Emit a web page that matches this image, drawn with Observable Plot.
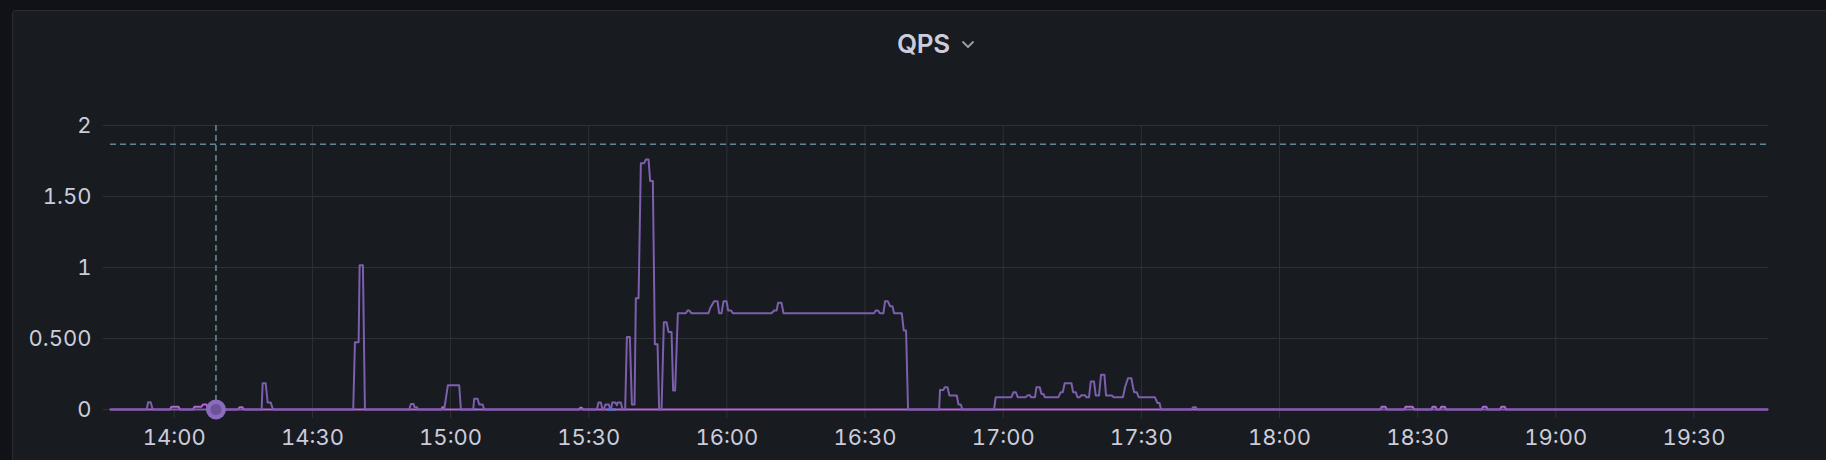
<!DOCTYPE html>
<html>
<head>
<meta charset="utf-8">
<script src="https://cdn.jsdelivr.net/npm/d3@7"></script>
<script src="https://cdn.jsdelivr.net/npm/@observablehq/plot@0.6"></script>
<style>
  html, body { margin: 0; padding: 0; width: 1826px; height: 460px; overflow: hidden; background: #111217; font-family: Inter, "Noto Sans", sans-serif; }
  #panel { position: absolute; left: 12px; top: 10px; width: 1840px; height: 480px; background: #181b1f; border: 1px solid #2a2c31; border-radius: 4px; box-sizing: border-box; }
  #title { position: absolute; left: 897px; top: 27px; height: 32px; display: flex; align-items: center; color: #ccccdc; font-size: 26px; font-weight: 600; letter-spacing: -0.3px; white-space: nowrap; }
  #title svg { margin-left: 11px; margin-top: 4px; }
  #chart { position: absolute; left: 0; top: 90px; }
</style>
</head>
<body>
<div id="panel"></div>
<div id="title"><span>QPS</span><svg width="14" height="10" viewBox="0 0 14 10"><polyline points="2,2 7,7 12,2" fill="none" stroke="#9d9fa8" stroke-width="1.8" stroke-linecap="round" stroke-linejoin="round"/></svg></div>
<div id="chart"></div>
<script>
// ---- data (times are minutes relative to 14:00) ----
const xTickLabels = ["14:00","14:30","15:00","15:30","16:00","16:30","17:00","17:30","18:00","18:30","19:00","19:30"];
const yTickValues = [0, 0.5, 1, 1.5, 2];
const yTickLabels = ["0", "0.500", "1", "1.50", "2"];
const domainMinutes = [-13.85, 345.97];
const threshold = 1.868;
const cursorMinute = 9.05;
const cursorValue = 0;

const purpleMinutes = [
  -13.85, -5.99, -5.67, -5.12, -4.69,
  18.97, 19.19, 19.84, 20.28, 20.93, 21.43,
  38.86, 39.23, 40.03, 40.25, 40.96, 41.40,
  51.02, 51.39, 51.97, 52.19, 52.69, 52.97,
  58.61, 59.42, 61.87, 62.24,
  64.91, 65.13, 65.86, 66.21, 66.95, 67.30,
  91.76, 92.13, 92.63, 93.00,
  93.28, 93.61, 94.37, 94.69,
  94.80, 95.13, 95.78, 96.11, 96.32, 96.97, 97.34,
  97.91, 98.28, 98.93, 99.37, 99.95, 100.23, 100.82, 101.32, 102.03, 102.40, 102.99, 103.33, 103.92,
  104.36, 104.94, 105.29, 105.81, 106.31, 106.90, 107.33, 107.98, 108.33, 108.76, 109.35,
  111.09, 111.46, 111.80, 112.32, 116.01, 116.36, 117.23, 117.97, 118.31, 118.84, 119.27, 119.92, 120.27, 120.92, 121.29,
  129.69, 130.25, 130.78, 131.12, 131.86, 132.30,
  151.96, 152.33, 152.83, 153.20, 154.00, 154.35, 154.94, 155.44, 155.96, 156.30, 157.98, 158.41, 158.91, 159.34,
  166.08, 166.29, 167.03, 167.31, 167.90, 168.33, 169.92, 170.29, 170.79, 171.15,
  178.01, 178.38, 181.79, 182.23, 182.73, 183.16, 184.90, 185.33, 185.77, 186.05, 186.92, 187.22, 187.94,
  188.31, 188.74, 189.02, 191.99, 192.50, 192.93, 193.36, 194.82, 195.17, 195.75, 196.12, 196.62, 196.99,
  197.77, 198.07, 198.64, 199.01, 199.72, 200.09, 200.81, 201.24, 201.98, 202.33, 203.60, 204.00, 206.02,
  206.45, 207.10, 207.84, 208.19, 208.45, 208.99, 209.43, 212.93, 213.51, 213.95, 214.27,
  220.93, 221.20, 221.85, 222.13,
  345.97
];
const purpleValues = [
  0, 0, 0.051, 0.051, 0,
  0, 0.185, 0.185, 0.05, 0.05, 0,
  0, 0.474, 0.474, 1.016, 1.016, 0,
  0, 0.038, 0.038, 0.016, 0.016, 0,
  0, 0.171, 0.171, 0,
  0, 0.075, 0.075, 0.035, 0.035, 0,
  0, 0.05, 0.05, 0,
  0, 0.035, 0.035, 0,
  0, 0.05, 0.05, 0.03, 0.05, 0.05, 0,
  0, 0.51, 0.51, 0.035, 0.035, 0.784, 0.784, 1.735, 1.735, 1.76, 1.76, 1.61, 1.61,
  0.46, 0.46, 0, 0, 0.615, 0.615, 0.545, 0.545, 0.134, 0.134, 0.678,
  0.678, 0.697, 0.697, 0.678, 0.678, 0.713, 0.763, 0.763, 0.678, 0.678, 0.763, 0.763, 0.697, 0.697, 0.678,
  0.678, 0.697, 0.697, 0.751, 0.751, 0.678,
  0.678, 0.697, 0.697, 0.678, 0.678, 0.763, 0.763, 0.727, 0.727, 0.678, 0.678, 0.556, 0.556, 0,
  0, 0.138, 0.138, 0.157, 0.157, 0.099, 0.099, 0.035, 0.035, 0,
  0, 0.087, 0.087, 0.122, 0.122, 0.087, 0.087, 0.101, 0.101, 0.087, 0.087, 0.157, 0.157,
  0.11, 0.11, 0.087, 0.087, 0.122, 0.122, 0.185, 0.185, 0.122, 0.122, 0.087, 0.087, 0.1,
  0.1, 0.087, 0.087, 0.197, 0.197, 0.099, 0.099, 0.244, 0.244, 0.099, 0.099, 0.087, 0.087,
  0.157, 0.22, 0.22, 0.157, 0.122, 0.122, 0.087, 0.087, 0.045, 0.045, 0,
  0, 0.015, 0.015, 0,
  0
];

const pinkMinutes = [
  -13.85,
  -0.93, -0.61, 0.91, 1.24,
  4.06, 4.39, 5.90, 6.23, 7.00, 7.31,
  13.83, 14.16, 14.81, 15.14,
  58.05, 58.20, 58.45, 58.61,
  87.85, 88.15, 88.50, 88.81,
  261.92, 262.20, 263.00, 263.33,
  267.06, 267.40, 268.90, 269.27,
  272.99, 273.25, 273.85, 274.12,
  274.86, 275.15, 275.90, 276.18,
  283.90, 284.20, 284.90, 285.20,
  287.88, 288.20, 288.90, 289.21,
  345.97
];
const pinkValues = [
  0,
  0, 0.02, 0.02, 0,
  0, 0.02, 0.02, 0.035, 0.035, 0,
  0, 0.015, 0.015, 0,
  0, 0.015, 0.015, 0,
  0, 0.012, 0.012, 0,
  0, 0.02, 0.02, 0,
  0, 0.02, 0.02, 0,
  0, 0.02, 0.02, 0,
  0, 0.02, 0.02, 0,
  0, 0.02, 0.02, 0,
  0, 0.02, 0.02, 0,
  0
];

const blueStartMinutes = [65.30, 94.09];
const blueEndMinutes = [65.73, 96.04];

// ---- helpers ----
const base = new Date(2024, 0, 1, 14, 0, 0);
const toDate = m => new Date(base.getTime() + m * 60000);
const xTickDates = xTickLabels.map(s => { const [h, mm] = s.split(":").map(Number); return new Date(2024, 0, 1, h, mm, 0); });
const xLabelMap = new Map(xTickDates.map((d, i) => [d.getTime(), xTickLabels[i]]));
const yLabelMap = new Map(yTickValues.map((v, i) => [v, yTickLabels[i]]));

const purple = purpleMinutes.map((m, i) => ({t: toDate(m), v: purpleValues[i]}));
const pink = pinkMinutes.map((m, i) => ({t: toDate(m), v: pinkValues[i]}));
const blue = blueStartMinutes.map((m, i) => ({t1: toDate(m), t2: toDate(blueEndMinutes[i]), v: 0}));
const cursor = [{t: toDate(cursorMinute), v: cursorValue}];

const gridColor = "#2e3136";
const dashColor = "#628896";

const chart = Plot.plot({
  width: 1826,
  height: 370,
  marginLeft: 110,
  marginRight: 59,
  marginTop: 35,
  marginBottom: 51,
  style: {background: "transparent", color: "#ccccdc", fontFamily: "Inter, 'Noto Sans', sans-serif", fontSize: "22px", overflow: "visible"},
  x: {type: "time", domain: domainMinutes.map(toDate)},
  y: {domain: [0, 2]},
  marks: [
    Plot.ruleY(yTickValues, {stroke: gridColor, strokeWidth: 1, insetLeft: -7, insetRight: -1}),
    Plot.ruleX(xTickDates, {stroke: gridColor, strokeWidth: 1, insetBottom: -9}),
    Plot.axisY({ticks: yTickValues, tickFormat: v => yLabelMap.get(v), tickSize: 0, tickPadding: 19, label: null, fontSize: 22}),
    Plot.axisX({ticks: xTickDates, tickFormat: d => xLabelMap.get(d.getTime()), tickSize: 0, tickPadding: 20, label: null, fontSize: 22}),
    Plot.ruleY([threshold], {stroke: dashColor, strokeWidth: 1.5, strokeDasharray: "6,4"}),
    Plot.line(pink, {x: "t", y: "v", stroke: "#b565d6", strokeWidth: 2}),
    Plot.ruleY(blue, {x1: "t1", x2: "t2", y: "v", stroke: "#3d8df2", strokeWidth: 2}),
    Plot.line(purple, {x: "t", y: "v", stroke: "#7c5fae", strokeWidth: 2}),
    Plot.ruleX(cursor, {x: "t", y1: 2, y2: "v", stroke: dashColor, strokeWidth: 1.6, strokeDasharray: "6,4"}),
    Plot.dot(cursor, {x: "t", y: "v", r: 10, fill: "#8c6bbd"}),
    Plot.dot(cursor, {x: "t", y: "v", r: 5.5, fill: "#6c5299"})
  ]
});
document.getElementById("chart").appendChild(chart);
</script>
</body>
</html>
